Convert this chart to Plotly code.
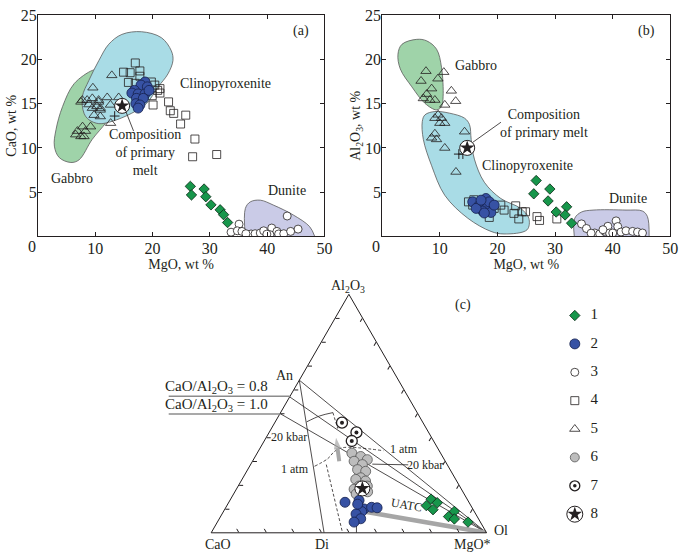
import plotly.graph_objects as go

FONT = "Liberation Serif"
INK = "#231f20"
W, H = 685, 554

# ---------------- Panel (a): CaO vs MgO ----------------
a_dia_mgo = [26.6, 26.8, 29.0, 29.3, 30.2, 31.8, 32.4, 33.1]
a_dia_cao = [5.65, 4.68, 5.35, 4.48, 3.56, 3.0, 2.45, 1.56]
a_blue_mgo = [18.7, 18.0, 19.1, 16.85, 16.4, 17.5, 18.7, 17.2, 18.4, 17.1, 17.8, 17.5, 19.4]
a_blue_cao = [17.45, 17.1, 16.9, 16.5, 16.2, 16.1, 16.1, 15.6, 15.6, 15.0, 14.85, 14.5, 16.5]
a_open_mgo = [35.1, 33.7, 34.8, 35.6, 37.2, 37.9, 38.8, 39.4, 40.8, 40.5, 41.7, 42.0, 42.9, 44.1, 45.4, 43.5, 39.95, 36.3]
a_open_cao = [1.38, 0.47, 0.63, 0.56, 0.27, 0.3, 0.38, 0.63, 0.94, 0.19, 0.56, 0.27, 0.3, 0.56, 0.82, 2.3, 0.25, 0.3]
a_sq_mgo = [17.0, 14.95, 16.1, 17.8, 17.8, 15.8, 17.0, 18.7, 19.8, 20.4, 20.9, 21.3, 19.95, 20.1, 21.3, 22.8, 23.1, 23.7, 25.8, 24.9, 27.4, 27.0, 31.2]
a_sq_cao = [19.6, 18.56, 18.5, 18.7, 18.1, 17.4, 17.3, 17.3, 17.45, 17.1, 16.5, 16.2, 15.9, 14.85, 16.7, 15.2, 14.2, 13.9, 13.7, 12.7, 11.0, 9.0, 9.25]
a_tri_mgo = [12.9, 9.6, 7.76, 8.6, 9.5, 10.6, 12.1, 14.1, 12.66, 9.5, 10.9, 10.3, 8.9, 9.8, 10.9, 12.7, 6.9, 7.8, 8.3, 9.2, 7.5, 6.6, 8.05, 10.6, 7.5, 10.9]
a_tri_cao = [18.2, 16.8, 15.4, 15.4, 15.6, 15.4, 15.7, 15.7, 14.86, 14.5, 14.5, 14.7, 14.9, 13.7, 13.55, 12.8, 11.9, 12.4, 11.9, 12.4, 11.3, 11.5, 11.3, 15.2, 15.2, 14.3]
a_cross_mgo = [13.4]
a_cross_cao = [13.6]
a_star_mgo = [14.7]
a_star_cao = [14.75]

a_gabbro_mgo = [11.0, 10.3, 9.48, 6.33, 4.31, 3.17, 2.88, 3.74, 5.76, 7.19, 9.48, 11.8, 12.4, 12.0, 11.0]
a_gabbro_cao = [18.0, 18.8, 18.75, 17.26, 14.67, 12.07, 10.2, 8.9, 8.35, 8.65, 10.96, 12.8, 13.55, 15.8, 18.0]
a_cpx_mgo = [16.38, 12.93, 10.64, 8.91, 8.05, 7.76, 8.91, 10.64, 12.36, 14.66, 18.1, 21.55, 23.28, 23.57, 22.7, 20.98, 18.97, 16.38]
a_cpx_cao = [13.92, 13.0, 12.74, 13.18, 13.92, 15.78, 17.64, 19.87, 21.71, 22.83, 23.13, 22.46, 20.98, 19.87, 18.37, 16.89, 15.03, 13.92]
a_dun_mgo = [36.2, 36.2, 37.07, 38.8, 41.1, 44.55, 47.4, 48.3]
a_dun_cao = [0.0, 3.16, 3.9, 4.09, 3.53, 2.42, 1.11, 0.0]

# ---------------- Panel (b): Al2O3 vs MgO ----------------
b_dia_mgo = [26.72, 29.09, 26.3, 28.78, 30.19, 32.0, 31.73, 32.86]
b_dia_al = [6.31, 5.35, 4.81, 4.0, 2.75, 3.34, 2.42, 1.49]
b_blue_mgo = [15.71, 16.86, 18.0, 18.28, 17.43, 18.87, 16.3, 18.58, 19.43, 17.15, 17.72]
b_blue_al = [3.9, 3.53, 4.28, 3.34, 2.86, 2.7, 3.16, 3.9, 3.53, 4.09, 2.64]
b_open_mgo = [34.58, 35.44, 36.88, 37.74, 38.6, 39.16, 40.58, 40.87, 41.44, 42.3, 43.45, 44.3, 45.16, 39.45, 40.0, 38.3, 36.25]
b_open_al = [1.41, 0.89, 0.38, 0.27, 0.58, 1.14, 1.75, 1.11, 0.49, 0.63, 0.56, 0.49, 0.38, 0.38, 0.38, 0.75, 0.36]
b_sq_mgo = [14.97, 15.9, 18.28, 18.58, 20.58, 21.15, 23.16, 22.86, 24.29, 24.87, 26.86, 27.3, 30.3, 19.43, 15.71, 23.7]
b_sq_al = [3.9, 4.14, 3.72, 2.14, 3.53, 2.97, 3.45, 2.6, 2.78, 2.78, 2.23, 1.8, 1.97, 3.16, 3.53, 1.97]
b_tri_mgo = [7.6, 6.74, 9.66, 10.69, 8.58, 7.72, 7.14, 8.28, 9.14, 12.0, 12.75, 10.86, 9.71, 9.14, 10.29, 10.86, 10.0, 9.14, 8.58, 9.43, 10.86, 14.29, 12.8]
b_tri_al = [18.67, 17.56, 17.82, 18.56, 16.7, 16.08, 15.59, 15.41, 15.41, 16.45, 15.28, 14.86, 13.74, 13.36, 13.36, 12.8, 12.8, 11.6, 11.14, 10.96, 9.99, 11.83, 7.28]
b_cross_mgo = [13.3, 14.0]
b_cross_al = [9.3, 9.3]
b_star_mgo = [14.75]
b_star_al = [10.0]

b_gabbro_mgo = [10.57, 10.29, 9.43, 7.72, 6.0, 3.43, 2.74, 3.14, 5.15, 7.43, 9.43, 10.29, 10.57]
b_gabbro_al = [15.78, 19.12, 21.16, 22.1, 22.27, 21.71, 20.6, 18.93, 16.9, 15.03, 14.3, 14.67, 15.78]
b_cpx_mgo = [15.44, 16.0, 17.72, 20.58, 24.01, 25.44, 25.15, 21.15, 18.87, 14.85, 10.86, 8.58, 7.14, 6.96, 7.43, 9.14, 11.72, 14.29, 15.15, 15.44]
b_cpx_al = [10.96, 8.73, 6.12, 4.28, 3.16, 2.05, 0.75, 0.27, 0.56, 2.05, 4.64, 7.98, 10.96, 13.0, 13.74, 14.11, 13.92, 13.36, 12.63, 10.96]
b_dun_mgo = [33.33, 33.41, 34.58, 36.59, 42.3, 45.16, 46.02, 46.31]
b_dun_al = [0.0, 2.05, 2.75, 2.97, 2.97, 2.86, 2.23, 0.0]

# ---------------- Panel (c): ternary Al2O3 (a) - CaO (b) - MgO* (c) ----------------
t_dia_a = [0.141, 0.126, 0.114, 0.097, 0.090, 0.068, 0.058, 0.045]
t_dia_b = [0.131, 0.116, 0.162, 0.146, 0.072, 0.104, 0.088, 0.045]
t_dia_c = [0.728, 0.758, 0.725, 0.757, 0.838, 0.827, 0.854, 0.911]
t_blue_a = [0.128, 0.136, 0.100, 0.107, 0.105, 0.089, 0.079, 0.059, 0.045, 0.120]
t_blue_b = [0.450, 0.395, 0.395, 0.364, 0.345, 0.409, 0.435, 0.428, 0.459, 0.408]
t_blue_c = [0.422, 0.469, 0.505, 0.529, 0.550, 0.502, 0.487, 0.514, 0.497, 0.472]
t_gray_a = [0.334, 0.320, 0.307, 0.300, 0.286, 0.265, 0.258, 0.231, 0.217, 0.224, 0.196, 0.196, 0.183, 0.172, 0.163]
t_gray_b = [0.322, 0.297, 0.280, 0.331, 0.308, 0.336, 0.310, 0.342, 0.331, 0.363, 0.365, 0.335, 0.390, 0.346, 0.392]
t_gray_c = [0.344, 0.383, 0.414, 0.369, 0.406, 0.399, 0.432, 0.428, 0.452, 0.413, 0.439, 0.469, 0.428, 0.482, 0.445]
t_dot_a = [0.462, 0.421, 0.385]
t_dot_b = [0.294, 0.262, 0.297]
t_dot_c = [0.244, 0.317, 0.318]
t_star_a = [0.186]
t_star_b = [0.358]
t_star_c = [0.456]

# reference points / lines in the ternary
an_abc = [0.64, 0.36, 0.0]
r08_abc = [0.57, 0.43, 0.0]
r10_abc = [0.50, 0.50, 0.0]
di_abc = [0.0, 0.59, 0.41]
ol_abc = [0.0, 0.0, 1.0]
vert_a, vert_b, vert_c = [0.0, 0.167], [0.4725, 0.389], [0.5275, 0.444]
kbar20_a, kbar20_b, kbar20_c = [0.465, 0.490, 0.504], [0.421, 0.361, 0.306], [0.114, 0.149, 0.190]
kbar20d_a, kbar20d_b, kbar20d_c = [0.504, 0.437], [0.306, 0.322], [0.190, 0.241]
kbar20r_a, kbar20r_b, kbar20r_c = [0.288, 0.285], [0.271, 0.142], [0.441, 0.573]
atm1_a = [0.279, 0.311, 0.341, 0.357, 0.344]
atm1_b = [0.485, 0.421, 0.382, 0.344, 0.202]
atm1_c = [0.236, 0.268, 0.277, 0.299, 0.454]
atm1v_a, atm1v_b, atm1v_c = [0.286, 0.0], [0.439, 0.523], [0.275, 0.477]
arrow_a, arrow_b, arrow_c = [0.300, 0.399], [0.385, 0.347], [0.315, 0.254]
uatc_a, uatc_b, uatc_c = [0.087, 0.0], [0.392, 0.0], [0.521, 1.0]

legend_labels = ["1", "2", "3", "4", "5", "6", "7", "8"]


def mk(symbol, size, color, lc, lw=0.8):
    return dict(symbol=symbol, size=size, color=color, line=dict(color=lc, width=lw))


GREEN_D = "#17964b"
BLUE_D = "#3752a4"
S1 = mk("diamond", 8, GREEN_D, "#0b2a17")
S2 = mk("circle", 10, BLUE_D, "#15214d")
S3 = mk("circle", 8, "white", INK)
S4 = mk("square-open", 8, INK, INK)
S5 = mk("triangle-up-open", 9, INK, INK)
S6 = mk("circle", 10, "#bdbdbd", "#555555")
S7o = mk("circle", 11, "white", INK, 1.3)
S7i = mk("circle", 4, INK, INK, 0)
S8o = mk("circle", 15, "white", INK, 1)
S8i = mk("star", 11, INK, INK, 0)
SX = mk("cross-thin", 7, INK, INK, 1)

fig = go.Figure()


def region(x, y, fill, xa, ya):
    fig.add_trace(go.Scatter(x=x, y=y, mode="lines", fill="toself", fillcolor=fill,
                             line=dict(color="#5a5a5a", width=0.8, shape="spline", smoothing=1.0),
                             xaxis=xa, yaxis=ya, hoverinfo="skip", showlegend=False))


def pts(x, y, m, xa, ya):
    fig.add_trace(go.Scatter(x=x, y=y, mode="markers", marker=m, xaxis=xa, yaxis=ya,
                             showlegend=False, hoverinfo="skip"))


GAB = "#9fd3a9"
CPX = "#a9dce6"
DUN = "#cacbe7"

# panel a
region(a_gabbro_mgo, a_gabbro_cao, GAB, "x", "y")
region(a_cpx_mgo, a_cpx_cao, CPX, "x", "y")
region(a_dun_mgo, a_dun_cao, DUN, "x", "y")
fig.add_trace(go.Scatter(x=[a_star_mgo[0] + 0.6, 16.7], y=[a_star_cao[0] - 0.55, 11.9], mode="lines",
                         line=dict(color=INK, width=0.8), xaxis="x", yaxis="y", showlegend=False))
pts(a_tri_mgo, a_tri_cao, S5, "x", "y")
pts(a_sq_mgo, a_sq_cao, S4, "x", "y")
pts(a_cross_mgo, a_cross_cao, SX, "x", "y")
pts(a_open_mgo, a_open_cao, S3, "x", "y")
pts(a_blue_mgo, a_blue_cao, S2, "x", "y")
pts(a_dia_mgo, a_dia_cao, S1, "x", "y")
pts(a_star_mgo, a_star_cao, S8o, "x", "y")
pts(a_star_mgo, a_star_cao, S8i, "x", "y")

# panel b
region(b_gabbro_mgo, b_gabbro_al, GAB, "x2", "y2")
region(b_cpx_mgo, b_cpx_al, CPX, "x2", "y2")
region(b_dun_mgo, b_dun_al, DUN, "x2", "y2")
fig.add_trace(go.Scatter(x=[b_star_mgo[0] + 0.9, 20.6], y=[b_star_al[0] + 0.6, 12.9], mode="lines",
                         line=dict(color=INK, width=0.8), xaxis="x2", yaxis="y2", showlegend=False))
pts(b_tri_mgo, b_tri_al, S5, "x2", "y2")
pts(b_sq_mgo, b_sq_al, S4, "x2", "y2")
pts(b_cross_mgo, b_cross_al, SX, "x2", "y2")
pts(b_open_mgo, b_open_al, S3, "x2", "y2")
pts(b_blue_mgo, b_blue_al, S2, "x2", "y2")
pts(b_dia_mgo, b_dia_al, S1, "x2", "y2")
pts(b_star_mgo, b_star_al, S8o, "x2", "y2")
pts(b_star_mgo, b_star_al, S8i, "x2", "y2")


# panel c (ternary)
def tline(a, b, c, color=INK, width=0.8, dash="solid", shape="linear", marker=None, mode="lines"):
    fig.add_trace(go.Scatterternary(a=a, b=b, c=c, mode=mode,
                                    line=dict(color=color, width=width, dash=dash, shape=shape),
                                    marker=marker, subplot="ternary", showlegend=False, hoverinfo="skip"))


def tpts(a, b, c, m):
    fig.add_trace(go.Scatterternary(a=a, b=b, c=c, mode="markers", marker=m, subplot="ternary",
                                    showlegend=False, hoverinfo="skip"))


for p in (an_abc, r08_abc, r10_abc):
    tline([p[0], ol_abc[0]], [p[1], ol_abc[1]], [p[2], ol_abc[2]])
tline([an_abc[0], di_abc[0]], [an_abc[1], di_abc[1]], [an_abc[2], di_abc[2]])
tline(vert_a, vert_b, vert_c)
tline(kbar20_a, kbar20_b, kbar20_c, shape="spline")
tline(kbar20d_a, kbar20d_b, kbar20d_c, dash="3px,2px")
tline(kbar20r_a, kbar20r_b, kbar20r_c)
tline(atm1_a, atm1_b, atm1_c, dash="3px,2px", shape="spline")
tline(atm1v_a, atm1v_b, atm1v_c, dash="3px,2px")
tline(uatc_a, uatc_b, uatc_c, color="#a6a6a6", width=4.5)
tline(arrow_a, arrow_b, arrow_c, color="#a6a6a6", width=4, mode="lines+markers",
      marker=dict(symbol="arrow", size=[0, 12], color="#a6a6a6", angleref="previous", line=dict(width=0)))
tpts(t_gray_a, t_gray_b, t_gray_c, S6)
tpts(t_blue_a, t_blue_b, t_blue_c, S2)
tpts(t_dia_a, t_dia_b, t_dia_c, S1)
tpts(t_dot_a, t_dot_b, t_dot_c, S7o)
tpts(t_dot_a, t_dot_b, t_dot_c, S7i)
tpts(t_star_a, t_star_b, t_star_c, S8o)
tpts(t_star_a, t_star_b, t_star_c, S8i)

# legend drawn in its own hidden axes
leg_y = list(range(1, len(legend_labels) + 1))
leg_styles = [[S1], [S2], [S3], [S4], [S5], [S6], [S7o, S7i], [S8o, S8i]]
leg_sizes = [[8], [10], [8], [8], [9], [9], [10, 3.5], [16, 11]]
for yv, styles, sizes in zip(leg_y, leg_styles, leg_sizes):
    for st, sz in zip(styles, sizes):
        m = dict(st)
        m["size"] = sz
        pts([0.27], [yv], m, "x3", "y3")
fig.add_trace(go.Scatter(x=[0.47] * len(legend_labels), y=leg_y, mode="text", text=legend_labels,
                         textposition="middle right", textfont=dict(family=FONT, size=15, color=INK),
                         xaxis="x3", yaxis="y3", showlegend=False, hoverinfo="skip"))


def px(x):
    return x / W


def py(y):
    return 1 - y / H


TICKSZ = 16
axis_common = dict(showline=True, linecolor=INK, linewidth=1, mirror="ticks", ticks="inside", ticklen=4,
                   tickcolor=INK, showgrid=False, zeroline=False, ticklabeloverflow="allow",
                   tickfont=dict(family=FONT, size=TICKSZ, color=INK))
xt = [10, 20, 30, 40, 50]
yt = [5, 10, 15, 20, 25]

tern_axis = dict(showgrid=False, showticklabels=False, ticks="inside", ticklen=4, tickwidth=1,
                 tickcolor=INK, linecolor=INK, linewidth=1, dtick=0.1, title=dict(text=""))

fig.update_layout(
    width=W, height=H, margin=dict(l=0, r=0, t=0, b=0), paper_bgcolor="white", plot_bgcolor="white",
    showlegend=False, font=dict(family=FONT, size=14, color=INK),
    xaxis=dict(domain=[px(38.3), px(328.3)], range=[0, 50], tickvals=xt, ticklabelstandoff=-3,
               title=dict(text="MgO, wt %", standoff=0, font=dict(size=14)), anchor="y", **axis_common),
    yaxis=dict(domain=[py(231.7), py(7.3)], range=[0, 25], tickvals=yt, ticklabelstandoff=-3,
               title=dict(text="CaO, wt %", standoff=0, font=dict(size=14)), anchor="x", **axis_common),
    xaxis2=dict(domain=[px(386.7), px(678.3)], range=[0, 50], tickvals=xt, ticklabelstandoff=-3,
                title=dict(text="MgO, wt %", standoff=0, font=dict(size=14)), anchor="y2", **axis_common),
    yaxis2=dict(domain=[py(231.7), py(7.3)], range=[0, 25], tickvals=yt, ticklabelstandoff=-3,
                title=dict(text="Al<sub>2</sub>O<sub>3</sub>, wt %", standoff=0, font=dict(size=14)),
                anchor="x2", **axis_common),
    xaxis3=dict(domain=[px(560), px(640)], range=[0, 1], visible=False, anchor="y3"),
    yaxis3=dict(domain=[py(525), py(300)], range=[8.396, 0.583], visible=False, anchor="x3"),
    ternary=dict(domain=dict(x=[px(213.3), px(492.7)], y=[py(532.5), py(290.5)]), sum=1,
                 bgcolor="white", aaxis=tern_axis, baxis=tern_axis, caxis=tern_axis),
)

ann = []


def txt(x, y, t, xref="x", yref="y", size=14, xanchor="center", yanchor="middle", angle=0):
    ann.append(dict(x=x, y=y, xref=xref, yref=yref, text=t, showarrow=False, xanchor=xanchor,
                    yanchor=yanchor, textangle=angle, font=dict(family=FONT, size=size, color=INK)))


# panel a labels
txt(0, 0, "0", "x", "y", size=TICKSZ, xanchor="right", yanchor="top")
txt(47.6, 23.2, "(a)", "x", "y", xanchor="right")
txt(32.8, 17.3, "Clinopyroxenite")
txt(6.0, 6.5, "Gabbro")
txt(18.7, 9.45, "Composition<br>of primary<br>melt")
txt(43.5, 5.2, "Dunite")
# panel b labels
txt(0, 0, "0", "x2", "y2", size=TICKSZ, xanchor="right", yanchor="top")
txt(47.6, 23.2, "(b)", "x2", "y2", xanchor="right")
txt(16.3, 19.3, "Gabbro", "x2", "y2")
txt(28.0, 12.8, "Composition<br>of primary melt", "x2", "y2")
txt(25.2, 8.06, "Clinopyroxenite", "x2", "y2")
txt(42.6, 4.28, "Dunite", "x2", "y2")
# panel c labels
P = "paper"
txt(px(351.7), py(282.5), "Al<sub>2</sub>O<sub>3</sub>", P, P)
txt(px(468.3), py(301.7), "(c)", P, P)
txt(px(288.3), py(373), "An", P, P)
txt(px(219.5), py(384.5), "CaO/Al<sub>2</sub>O<sub>3</sub> = 0.8", P, P, size=15)
txt(px(219.5), py(402.5), "CaO/Al<sub>2</sub>O<sub>3</sub> = 1.0", P, P, size=15)
txt(px(220.5), py(544), "CaO", P, P)
txt(px(325.8), py(544), "Di", P, P)
txt(px(478.3), py(544), "MgO*", P, P)
txt(px(506.5), py(530), "Ol", P, P)
txt(px(292.5), py(435), "20 kbar", P, P, size=12)
txt(px(298.3), py(467.3), "1 atm", P, P, size=12)
txt(px(409), py(447), "1 atm", P, P, size=12)
txt(px(430), py(463.3), "20 kbar", P, P, size=12)
txt(px(411.7), py(504.5), "UATC", P, P, size=12, angle=10)

shapes = [
    dict(type="line", xref="paper", yref="paper", x0=px(170.7), x1=px(293.3), y0=py(394), y1=py(394),
         line=dict(color="#8c8c8c", width=1.5)),
    dict(type="line", xref="paper", yref="paper", x0=px(170.7), x1=px(283.3), y0=py(412), y1=py(412),
         line=dict(color="#8c8c8c", width=1.5)),
]

fig.update_layout(annotations=ann, shapes=shapes)
fig.write_html("out.html", config={"displayModeBar": False},
               post_script="document.body.style.margin='0';document.body.style.overflow='hidden';")
